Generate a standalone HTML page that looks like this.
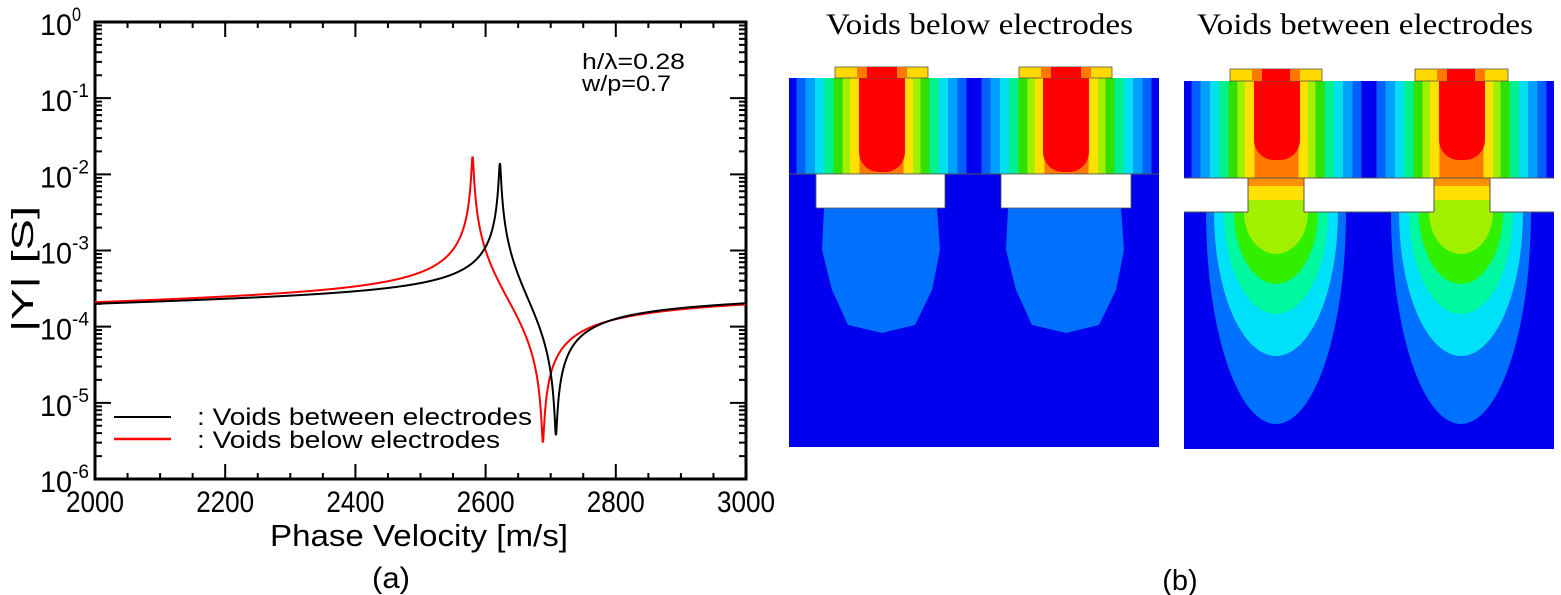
<!DOCTYPE html>
<html><head><meta charset="utf-8"><style>
body{margin:0;background:#fff;width:1561px;height:595px;overflow:hidden;}
svg{display:block}
text{font-family:"Liberation Sans",sans-serif;}
</style></head><body>
<svg id="s" width="1561" height="595" viewBox="0 0 1561 595" xmlns="http://www.w3.org/2000/svg">
<defs>
<linearGradient id="bandL" x1="0" x2="1">
<stop offset="0" stop-color="#0000ee"/><stop offset="0.04" stop-color="#0000ee"/>
<stop offset="0.04" stop-color="#0060ff"/><stop offset="0.09" stop-color="#0060ff"/>
<stop offset="0.09" stop-color="#00a0ff"/><stop offset="0.14" stop-color="#00a0ff"/>
<stop offset="0.14" stop-color="#00e0f0"/><stop offset="0.19" stop-color="#00e0f0"/>
<stop offset="0.19" stop-color="#00f090"/><stop offset="0.24" stop-color="#00f090"/>
<stop offset="0.24" stop-color="#30e000"/><stop offset="0.29" stop-color="#30e000"/>
<stop offset="0.29" stop-color="#a0f000"/><stop offset="0.33" stop-color="#a0f000"/>
<stop offset="0.33" stop-color="#ffe000"/><stop offset="0.38" stop-color="#ffe000"/>
<stop offset="0.38" stop-color="#ff7800"/><stop offset="0.62" stop-color="#ff7800"/>
<stop offset="0.62" stop-color="#ffe000"/><stop offset="0.67" stop-color="#ffe000"/>
<stop offset="0.67" stop-color="#a0f000"/><stop offset="0.71" stop-color="#a0f000"/>
<stop offset="0.71" stop-color="#30e000"/><stop offset="0.76" stop-color="#30e000"/>
<stop offset="0.76" stop-color="#00f090"/><stop offset="0.81" stop-color="#00f090"/>
<stop offset="0.81" stop-color="#00e0f0"/><stop offset="0.86" stop-color="#00e0f0"/>
<stop offset="0.86" stop-color="#00a0ff"/><stop offset="0.91" stop-color="#00a0ff"/>
<stop offset="0.91" stop-color="#0060ff"/><stop offset="0.96" stop-color="#0060ff"/>
<stop offset="0.96" stop-color="#0000ee"/><stop offset="1" stop-color="#0000ee"/>
</linearGradient>
<clipPath id="cL"><rect x="789" y="78" width="370" height="96"/></clipPath>
<clipPath id="cR"><rect x="1184" y="81" width="370" height="97"/></clipPath>
<clipPath id="cRb"><rect x="1184" y="212" width="370" height="237"/></clipPath>
</defs>
<rect width="1561" height="595" fill="#fff"/>
<g id="chart"></g>

<text x="826" y="34" font-size="30" textLength="307" lengthAdjust="spacingAndGlyphs" style="font-family:'Liberation Serif',serif">Voids below electrodes</text>
<text x="1197" y="34" font-size="30" textLength="336" lengthAdjust="spacingAndGlyphs" style="font-family:'Liberation Serif',serif">Voids between electrodes</text>
<text x="1180" y="590" font-size="29" text-anchor="middle">(b)</text>

<!-- Left contour -->
<rect x="789" y="174" width="370" height="273" fill="#0000ee"/>
<g clip-path="url(#cL)">
<rect x="789" y="78" width="185" height="96" fill="url(#bandL)"/>
<rect x="974" y="78" width="185" height="96" fill="url(#bandL)"/>
<rect x="859" y="60" width="46" height="112" rx="20" fill="#ff0000"/>
<rect x="1043" y="60" width="46" height="112" rx="20" fill="#ff0000"/>
</g>
<line x1="789" y1="174" x2="1159" y2="174" stroke="#555" stroke-width="1"/>
<rect x="835" y="67" width="93" height="11" fill="#ffd800" stroke="#555" stroke-width="0.8"/>
<rect x="1019" y="67" width="93" height="11" fill="#ffd800" stroke="#555" stroke-width="0.8"/>
<rect x="857" y="67" width="50" height="11" fill="#ff7800"/><rect x="867" y="67" width="30" height="11" fill="#ff0000"/>
<rect x="1041" y="67" width="50" height="11" fill="#ff7800"/><rect x="1051" y="67" width="30" height="11" fill="#ff0000"/>
<path d="M824,208 L937,208 L940,250 L932,290 L915,325 L882,333 L848,325 L832,290 L822,250 Z" fill="#0070ff"/>
<path d="M1008,208 L1121,208 L1124,250 L1116,290 L1099,325 L1066,333 L1032,325 L1016,290 L1006,250 Z" fill="#0070ff"/>
<rect x="816" y="174" width="129" height="34" fill="#fff" stroke="#555" stroke-width="0.8"/>
<rect x="1001" y="174" width="130" height="34" fill="#fff" stroke="#555" stroke-width="0.8"/>

<!-- Right contour -->
<rect x="1184" y="212" width="370" height="237" fill="#0000ee"/>
<g clip-path="url(#cR)">
<rect x="1184" y="81" width="185" height="97" fill="url(#bandL)"/>
<rect x="1369" y="81" width="185" height="97" fill="url(#bandL)"/>
<rect x="1254" y="55" width="46" height="105" rx="20" fill="#ff0000"/>
<rect x="1439" y="55" width="46" height="105" rx="20" fill="#ff0000"/>
</g>
<g clip-path="url(#cRb)">
<ellipse cx="1276" cy="212" rx="70" ry="212" fill="#0070ff"/>
<ellipse cx="1461" cy="212" rx="70" ry="212" fill="#0070ff"/>
<ellipse cx="1276" cy="212" rx="62" ry="144" fill="#00e0f8"/>
<ellipse cx="1461" cy="212" rx="62" ry="144" fill="#00e0f8"/>
<ellipse cx="1276" cy="212" rx="52" ry="102" fill="#00f8a0"/>
<ellipse cx="1461" cy="212" rx="52" ry="102" fill="#00f8a0"/>
<ellipse cx="1276" cy="212" rx="42" ry="72" fill="#30f000"/>
<ellipse cx="1461" cy="212" rx="42" ry="72" fill="#30f000"/>
<ellipse cx="1276" cy="212" rx="32" ry="42" fill="#a0f000"/>
<ellipse cx="1461" cy="212" rx="32" ry="42" fill="#a0f000"/>
</g>
<rect x="1248" y="178" width="56" height="34" fill="#ffe000"/>
<rect x="1248" y="178" width="56" height="8" fill="#ff9000"/>
<rect x="1248" y="200" width="56" height="12" fill="#a0f000"/>
<rect x="1434" y="178" width="56" height="34" fill="#ffe000"/>
<rect x="1434" y="178" width="56" height="8" fill="#ff9000"/>
<rect x="1434" y="200" width="56" height="12" fill="#a0f000"/>
<line x1="1248" y1="178" x2="1248" y2="212" stroke="#555"/><line x1="1304" y1="178" x2="1304" y2="212" stroke="#555"/>
<line x1="1434" y1="178" x2="1434" y2="212" stroke="#555"/><line x1="1490" y1="178" x2="1490" y2="212" stroke="#555"/>
<line x1="1184" y1="212" x2="1248" y2="212" stroke="#555"/><line x1="1304" y1="212" x2="1434" y2="212" stroke="#555"/><line x1="1490" y1="212" x2="1554" y2="212" stroke="#555"/>
<line x1="1184" y1="178" x2="1554" y2="178" stroke="#555"/>
<rect x="1230" y="69" width="92" height="12" fill="#ffd800" stroke="#555" stroke-width="0.8"/>
<rect x="1415" y="69" width="93" height="12" fill="#ffd800" stroke="#555" stroke-width="0.8"/>
<rect x="1252" y="69" width="48" height="12" fill="#ff7800"/><rect x="1262" y="69" width="28" height="12" fill="#ff0000"/>
<rect x="1437" y="69" width="48" height="12" fill="#ff7800"/><rect x="1447" y="69" width="28" height="12" fill="#ff0000"/>
</svg>
<script>
(function(){
var X0=95,X1=746,Y0=22,Y1=479;
var ns="http://www.w3.org/2000/svg",g=document.getElementById("chart");
function el(t,a,txt){var e=document.createElementNS(ns,t);for(var k in a)e.setAttribute(k,a[k]);if(txt!=null)e.textContent=txt;g.appendChild(e);return e;}
function px(v){return X0+(v-2000)/1000*(X1-X0);}
function py(y){return Y0+(-Math.log10(y))/6*(Y1-Y0);}
var h="";
for(var d=0;d<6;d++){for(var m=1;m<10;m++){var y=py(Math.pow(10,-d-1)*m);var L=(m==1)?16:7;
 h+="M"+X0+","+y+"h"+L+"M"+X1+","+y+"h-"+L;}}
for(var v=2050;v<3000;v+=50){var x=px(v);var L=(v%200==0)?15:6;h+="M"+x+","+Y1+"v-"+L+"M"+x+","+Y0+"v"+L;}
el("path",{d:h,stroke:"#000","stroke-width":2,fill:"none"});
el("rect",{x:X0,y:Y0,width:X1-X0,height:Y1-Y0,fill:"none",stroke:"#000","stroke-width":3});
function curve(vr,va,col){var C=2e-4/2320,g2=7394,d="";
 for(var i=0;i<=3000;i++){var v=2000+i/3;var nr=va*va-v*v,dr=vr*vr-v*v;
  var Y=C*v*Math.sqrt((nr*nr+g2*g2)/(dr*dr+g2*g2));d+=(i?"L":"M")+px(v).toFixed(2)+","+py(Y).toFixed(2);}
 el("path",{d:d,stroke:col,"stroke-width":2,fill:"none"});}
curve(2580,2688,"#f00");curve(2622,2708,"#000");
for(var d=0;d<=6;d++){var y=py(Math.pow(10,-d));
 el("text",{x:40,y:y+13,"font-size":30,textLength:32,lengthAdjust:"spacingAndGlyphs"},"10");
 el("text",{x:72,y:y-1,"font-size":19,textLength:d==0?9:17,lengthAdjust:"spacingAndGlyphs"},d==0?"0":"-"+d);}
for(var v=2000;v<=3000;v+=200){el("text",{x:px(v)-29,y:512,"font-size":30,textLength:58,lengthAdjust:"spacingAndGlyphs"},String(v));}
el("text",{x:270,y:546,"font-size":31,textLength:298,lengthAdjust:"spacingAndGlyphs"},"Phase  Velocity  [m/s]");
el("text",{x:372,y:588,"font-size":30,textLength:38,lengthAdjust:"spacingAndGlyphs"},"(a)");
el("text",{x:0,y:0,"font-size":31,textLength:126,lengthAdjust:"spacingAndGlyphs",transform:"translate(33,332) rotate(-90)"},"|Y|  [S]");
el("text",{x:582,y:69,"font-size":22,textLength:103,lengthAdjust:"spacingAndGlyphs"},"h/λ=0.28");
el("text",{x:582,y:91,"font-size":22,textLength:89,lengthAdjust:"spacingAndGlyphs"},"w/p=0.7");
el("line",{x1:114,y1:417,x2:171,y2:417,stroke:"#000","stroke-width":2});
el("line",{x1:114,y1:439,x2:171,y2:439,stroke:"#f00","stroke-width":2.5});
el("text",{x:197,y:425,"font-size":24,textLength:335,lengthAdjust:"spacingAndGlyphs"},":  Voids  between  electrodes");
el("text",{x:197,y:448,"font-size":24,textLength:303,lengthAdjust:"spacingAndGlyphs"},":  Voids  below  electrodes");
})();
</script>
</body></html>
